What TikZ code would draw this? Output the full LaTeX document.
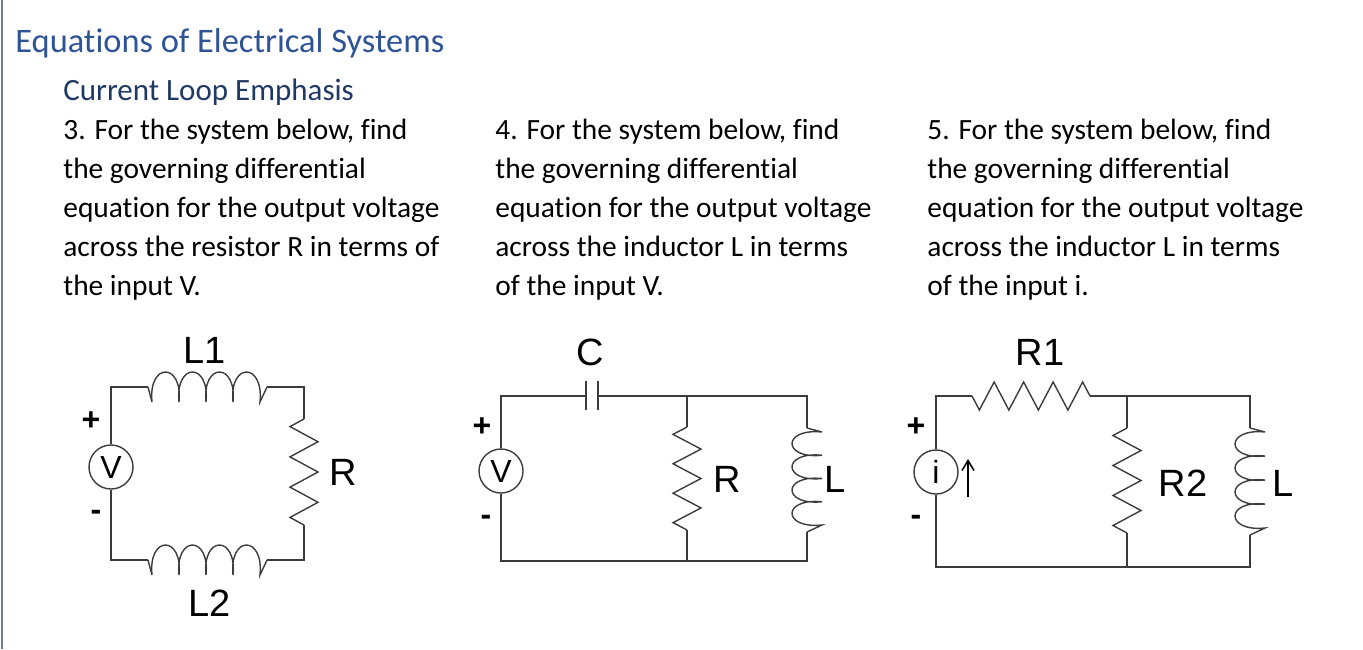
\documentclass[tikz,border=0pt]{standalone}
\usepackage{fontspec}
\setmainfont{Carlito}[Ligatures=NoCommon]
\newfontfamily\circfont{Liberation Sans}
\usetikzlibrary{positioning,arrows.meta}
\definecolor{TitleBlue}{RGB}{47,84,150}
\definecolor{SubBlue}{RGB}{31,56,100}
\definecolor{WireGray}{RGB}{60,60,60}

% coil along a horizontal wire, arches upward
\newcommand\coilH[3]{%
  \pgfmathsetmacro\cw{(#2-#1-11)/4}
  \draw[wire] (#1,#3) -- (#1+4,#3+15)
    \foreach \k [evaluate=\k as \xa using #1+4+\k*\cw,
                 evaluate=\k as \xb using #1+4+(\k+1)*\cw] in {0,...,3}
    {.. controls (\xa-4,#3-25) and (\xb+4,#3-25) .. (\xb,#3+15)}
    -- (#2,#3);}
% coil along a vertical wire, arches to the left
\newcommand\coilV[3]{%
  \pgfmathsetmacro\cw{(#3-#2-11)/4}
  \draw[wire] (#1,#2) -- (#1+15,#2+4)
    \foreach \k [evaluate=\k as \ya using #2+4+\k*\cw,
                 evaluate=\k as \yb using #2+4+(\k+1)*\cw] in {0,...,3}
    {.. controls (#1-25,\ya-4) and (#1-25,\yb+4) .. (#1+15,\yb)}
    -- (#1,#3);}
% zigzag resistors
\newcommand\zigV[3]{%
  \pgfmathsetmacro\zd{(#3-#2)/7}
  \draw[wire] (#1,#2)
    \foreach \k [evaluate=\k as \yy using #2+(\k+0.5)*\zd,
                 evaluate=\k as \ss using {14*(2*mod(\k,2)-1)}] in {0,...,6}
    {-- (#1+\ss,\yy)} -- (#1,#3);}
\newcommand\zigH[3]{%
  \pgfmathsetmacro\zd{(#2-#1)/8}
  \draw[wire] (#1,#3)
    \foreach \k [evaluate=\k as \xx using #1+(\k+0.5)*\zd,
                 evaluate=\k as \ss using {14*(1-2*mod(\k,2))}] in {0,...,7}
    {-- (\xx,#3+\ss)} -- (#2,#3);}

\begin{document}
\begin{tikzpicture}[x=0.5pt, y=-0.5pt,
    wire/.style={draw=WireGray, line width=0.7pt},
    source/.style={circle, draw=WireGray, line width=0.7pt, minimum size=22pt, inner sep=0pt, font=\circfont\fontsize{16}{16}\selectfont},
    clabel/.style={font=\circfont\fontsize{19}{19}\selectfont},
    sign/.style={font=\circfont\bfseries\fontsize{16}{16}\selectfont},
    question/.style={anchor=north west, inner sep=0pt, align=left, font=\fontsize{14.7}{19.5}\selectfont}
  ]
  \useasboundingbox (0,0) rectangle (1363,649);
  \draw[color={rgb,255:red,110;green,125;blue,150}, line width=1pt] (2,0) -- (2,649);

  \node[anchor=base west, inner sep=0pt, text=TitleBlue, font=\fontsize{17.2}{17}\selectfont] (title) at (15,52) {Equations of Electrical Systems};
  \node[anchor=base west, inner sep=0pt, text=SubBlue, font=\fontsize{15.5}{15}\selectfont] (sub) at (63,100) {Current Loop Emphasis};

  \node[question] (q3) at (63,119) {3. For the system below, find\\the governing differential\\equation for the output voltage\\across the resistor R in terms of\\the input V.};
  \node[question] (q4) at (495,119) {4. For the system below, find\\the governing differential\\equation for the output voltage\\across the inductor L in terms\\of the input V.};
  \node[question] (q5) at (927,119) {5. For the system below, find\\the governing differential\\equation for the output voltage\\across the inductor L in terms\\of the input i.};

  % circuit 3
  \node[source] (v1) at (111,467) {V};
  \draw[wire] (v1.north) -- (111,387) -- (148,387);
  \coilH{148}{267}{387}
  \draw[wire] (267,387) -- (304,387) -- (304,419);
  \zigV{304}{419}{525}
  \draw[wire] (304,525) -- (304,560) -- (267,560);
  \coilH{148}{267}{560}
  \draw[wire] (148,560) -- (111,560) -- (v1.south);
  \node[clabel] (l1) at (205,350) {L1};
  \node[clabel] (r) at (343,472) {R};
  \node[clabel] (l2) at (210,603) {L2};
  \node[sign] (p1) at (91,421) {+};
  \node[sign] (m1) at (96,515) {-};

  % circuit 4
  \node[source] (v2) at (501,471) {V};
  \draw[wire] (v2.north) -- (501,396) -- (586,396);
  \draw[wire] (586,381) -- (586,410) (598,381) -- (598,410);
  \draw[wire] (598,396) -- (807,396) -- (807,428);
  \draw[wire] (687,396) -- (687,427);
  \zigV{687}{427}{530}
  \draw[wire] (687,530) -- (687,561);
  \coilV{807}{428}{532}
  \draw[wire] (807,532) -- (807,561) -- (501,561) -- (v2.south);
  \node[clabel] (c) at (590,352) {C};
  \node[clabel] (r2) at (727,479) {R};
  \node[clabel] (l) at (835,479) {L};
  \node[sign] (p2) at (482,427) {+};
  \node[sign] (m2) at (486,520) {-};

  % circuit 5
  \node[source] (i1) at (936,472) {i};
  \draw[wire] (i1.north) -- (936,396) -- (972,396);
  \zigH{972}{1090}{396}
  \draw[wire] (1090,396) -- (1250,396) -- (1250,428);
  \draw[wire] (1127,396) -- (1127,428);
  \zigV{1127}{428}{533}
  \draw[wire] (1127,533) -- (1127,567);
  \coilV{1250}{428}{535}
  \draw[wire] (1250,535) -- (1250,567) -- (936,567) -- (i1.south);
  \coordinate (ia) at (968,497);
  \draw[line width=0.8pt, -{Straight Barb[length=5pt,width=6pt]}] (ia) -- ([yshift=19pt]ia);
  \node[clabel] (r1) at (1040,352) {R1};
  \node[clabel] (rr2) at (1183,483) {R2};
  \node[clabel] (ll) at (1283,483) {L};
  \node[sign] (p3) at (916,427) {+};
  \node[sign] (m3) at (916,520) {-};
\end{tikzpicture}
\end{document}
